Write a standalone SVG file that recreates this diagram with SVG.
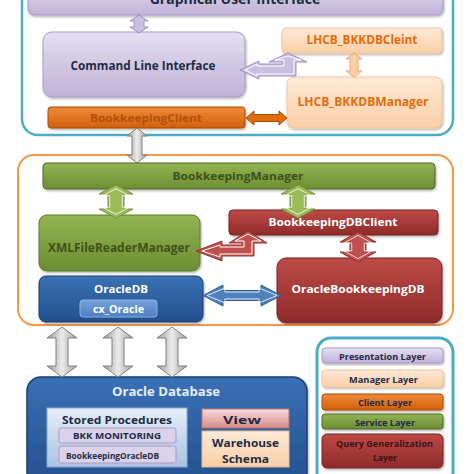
<svg xmlns="http://www.w3.org/2000/svg" width="474" height="474" viewBox="0 0 474 474">
<defs>
<linearGradient id="gLav" x1="0" y1="0" x2="0" y2="1"><stop offset="0" stop-color="#e4dff0"/><stop offset="1" stop-color="#bfb2d8"/></linearGradient>
<linearGradient id="gPeach" x1="0" y1="0" x2="0" y2="1"><stop offset="0" stop-color="#fee9d8"/><stop offset="1" stop-color="#fbcfa6"/></linearGradient>
<linearGradient id="gOrange" x1="0" y1="0" x2="0" y2="1"><stop offset="0" stop-color="#ee8a3a"/><stop offset="1" stop-color="#d2600c"/></linearGradient>
<linearGradient id="gGreen" x1="0" y1="0" x2="0" y2="1"><stop offset="0" stop-color="#93b452"/><stop offset="1" stop-color="#6d8d33"/></linearGradient>
<linearGradient id="gRed" x1="0" y1="0" x2="0" y2="1"><stop offset="0" stop-color="#bd4a47"/><stop offset="1" stop-color="#8f2b2a"/></linearGradient>
<linearGradient id="gBlue" x1="0" y1="0" x2="0" y2="1"><stop offset="0" stop-color="#3a70b5"/><stop offset="1" stop-color="#23508c"/></linearGradient>
<linearGradient id="gBlueL" x1="0" y1="0" x2="0" y2="1"><stop offset="0" stop-color="#77a3da"/><stop offset="1" stop-color="#4a7ec4"/></linearGradient>
<linearGradient id="gSP" x1="0" y1="0" x2="0" y2="1"><stop offset="0" stop-color="#e6eef8"/><stop offset="1" stop-color="#a9c2e2"/></linearGradient>
<linearGradient id="gPink" x1="0" y1="0" x2="0" y2="1"><stop offset="0" stop-color="#f8dada"/><stop offset="1" stop-color="#d98a8a"/></linearGradient>
<linearGradient id="gGray" x1="0" y1="0" x2="1" y2="0"><stop offset="0" stop-color="#9a9a9a"/><stop offset="0.5" stop-color="#ececec"/><stop offset="1" stop-color="#9a9a9a"/></linearGradient>
<filter id="sh" x="-10%" y="-10%" width="120%" height="130%"><feDropShadow dx="1" dy="1.5" stdDeviation="1.2" flood-color="#000" flood-opacity="0.3"/></filter>
</defs>
<style>
text{font-family:"Open Sans","Liberation Sans",sans-serif;font-weight:700;text-anchor:middle;dominant-baseline:central}
.dk{fill:#1f2a44}
.wt{fill:#ffffff}
.box{filter:url(#sh)}
.inner{fill:none;stroke:#ffffff;stroke-width:1}
</style>

<rect x="22" y="-30" width="431" height="165" rx="16" fill="#ffffff" stroke="#4bacc6" stroke-width="2.5"/>
<rect x="18" y="155" width="435" height="170" rx="16" fill="#ffffff" stroke="#f79646" stroke-width="2"/>
<rect x="317" y="338" width="136" height="150" rx="14" fill="#ffffff" stroke="#4bacc6" stroke-width="3"/>

<g id="gui"><rect class="box" x="28" y="-20" width="415" height="35" rx="6" fill="url(#gLav)" stroke="#a898c8"/><text class="dk" x="235" y="-2" font-size="14">Graphical User Interface</text></g>
<g id="cli"><rect class="box" x="43" y="32" width="202" height="65" rx="9" fill="url(#gLav)" stroke="#a898c8"/><text class="dk" x="143" y="65" font-size="12" textLength="145" lengthAdjust="spacingAndGlyphs">Command Line Interface</text></g>
<g id="lhcbClient"><rect class="box" x="282" y="28" width="160" height="25" rx="4" fill="url(#gPeach)" stroke="#f5c29a"/><text x="362" y="39.5" font-size="11.5" fill="#e46c0a" textLength="111" lengthAdjust="spacingAndGlyphs">LHCB_BKKDBCleint</text></g>
<g id="lhcbManager"><rect class="box" x="287" y="77" width="155" height="51" rx="7" fill="url(#gPeach)" stroke="#f5c29a"/><text x="363" y="101" font-size="11.5" fill="#e46c0a" textLength="131" lengthAdjust="spacingAndGlyphs">LHCB_BKKDBManager</text></g>
<g id="bkClient"><rect class="box" x="48" y="107" width="197" height="21" rx="3" fill="url(#gOrange)" stroke="#a84b08"/><text x="146" y="117.5" font-size="11" fill="#b24f0e" textLength="112" lengthAdjust="spacingAndGlyphs">BookkeepingClient</text></g>

<g id="bkManager"><rect class="box" x="43" y="163" width="392" height="26" rx="4" fill="url(#gGreen)" stroke="#4f6a22"/><text x="238" y="175" font-size="11" fill="#3d4f1a" textLength="131" lengthAdjust="spacingAndGlyphs">BookkeepingManager</text></g>
<g id="xmlReader"><rect class="box" x="39" y="215" width="161" height="56" rx="8" fill="url(#gGreen)" stroke="#5f7d2a"/><text x="119" y="247" font-size="11.5" fill="#3e5218" textLength="142" lengthAdjust="spacingAndGlyphs">XMLFileReaderManager</text></g>
<g id="bkDBClient"><rect class="box" x="229" y="210" width="209" height="25" rx="4" fill="url(#gRed)" stroke="#7a2020"/><text class="wt" x="333" y="221.5" font-size="11" textLength="129" lengthAdjust="spacingAndGlyphs">BookkeepingDBClient</text></g>
<g id="oracleBkDB"><rect class="box" x="277" y="258" width="165" height="65" rx="9" fill="url(#gRed)" stroke="#7a2020"/><text class="wt" x="358" y="288" font-size="11" textLength="133" lengthAdjust="spacingAndGlyphs">OracleBookkeepingDB</text></g>
<g id="oracleDB"><rect class="box" x="39" y="276" width="164" height="46" rx="7" fill="url(#gBlue)" stroke="#1a3f70"/><text class="wt" x="121" y="288" font-size="11" textLength="54" lengthAdjust="spacingAndGlyphs">OracleDB</text>
<rect x="80" y="300" width="77" height="17" rx="3" fill="url(#gBlueL)" stroke="#8fb2e0"/><text class="wt" x="118.5" y="309" font-size="10" textLength="51" lengthAdjust="spacingAndGlyphs">cx_Oracle</text></g>

<g id="oracleDatabase"><rect class="box" x="27" y="377" width="280" height="110" rx="14" fill="url(#gBlue)" stroke="#1a3f70" stroke-width="1.5"/><text x="166" y="391" font-size="12" fill="#e8eef8" textLength="108" lengthAdjust="spacingAndGlyphs">Oracle Database</text></g>
<g id="storedProcedures"><rect x="47" y="408" width="140" height="59" fill="url(#gSP)" stroke="#8aa8d2"/><text class="dk" x="117" y="419" font-size="11" textLength="110" lengthAdjust="spacingAndGlyphs">Stored Procedures</text>
<rect x="59" y="428" width="117" height="15" rx="2" fill="#d9d2e9" stroke="#a99bc8"/><text class="dk" x="117" y="435.5" font-size="8.5" textLength="88" lengthAdjust="spacingAndGlyphs">BKK  MONITORING</text>
<rect x="59" y="446" width="117" height="17" rx="2" fill="#d9d2e9" stroke="#a99bc8"/><text class="dk" x="112.5" y="455" font-size="8" textLength="93" lengthAdjust="spacingAndGlyphs">BookkeepingOracleDB</text></g>
<g id="view"><rect x="202" y="409" width="87" height="19" fill="url(#gPink)" stroke="#c07070"/><text class="dk" x="242" y="419.5" font-size="11" textLength="38" lengthAdjust="spacingAndGlyphs">View</text></g>
<g id="warehouse"><rect x="202" y="431" width="87" height="36" fill="url(#gPeach)" stroke="#e8b894"/><text class="dk" x="245.5" y="442" font-size="11" textLength="67" lengthAdjust="spacingAndGlyphs">Warehouse</text><text class="dk" x="245.5" y="458" font-size="11" textLength="47" lengthAdjust="spacingAndGlyphs">Schema</text></g>

<g id="legend">
<rect class="box" x="322" y="348" width="121" height="15" rx="3" fill="url(#gLav)" stroke="#a898c8"/><text class="dk" x="382.5" y="356" font-size="8.5" textLength="87" lengthAdjust="spacingAndGlyphs">Presentation Layer</text>
<rect class="box" x="322" y="370" width="121" height="17" rx="3" fill="url(#gPeach)" stroke="#f5c29a"/><text class="dk" x="383.5" y="379" font-size="8.5" textLength="69" lengthAdjust="spacingAndGlyphs">Manager Layer</text>
<rect class="box" x="322" y="394" width="121" height="16" rx="3" fill="url(#gOrange)" stroke="#a84b08"/><text class="dk" x="385" y="402.5" font-size="8.5" textLength="54" lengthAdjust="spacingAndGlyphs">Client Layer</text>
<rect class="box" x="322" y="414" width="121" height="15" rx="3" fill="url(#gGreen)" stroke="#4f6a22"/><text class="dk" x="385" y="422" font-size="8.5" textLength="60" lengthAdjust="spacingAndGlyphs">Service Layer</text>
<rect class="box" x="322" y="434" width="121" height="34" rx="5" fill="url(#gRed)" stroke="#7a2020"/><text x="384.5" y="443.5" font-size="8.5" fill="#3a1414" textLength="97" lengthAdjust="spacingAndGlyphs">Query Generalization</text><text x="385" y="457" font-size="8.5" fill="#3a1414" textLength="24" lengthAdjust="spacingAndGlyphs">Layer</text>
</g>

<g id="connectors">
<polygon points="139,15 148,21 144,21 144,27 148,27 139,33 130,27 134,27 134,21 130,21" fill="#c9bfe0" stroke="#9e90c2"/>
<polygon points="288,53 307,62 296,62 296,76 259,76 259,79 240,70 259,61 259,64 282,64 282,62 269,62" fill="#c9bfe0" stroke="#9e90c2"/>
<polygon class="inner" points="288,56 301,60 294,60 294,74 257,74 257,76 245,70 257,64 257,66 284,66 284,60 275,60"/>
<polygon points="354,53 362,59 358,59 358,71 362,71 354,77 346,71 350,71 350,59 346,59" fill="#fbcfa6" stroke="#f0a870"/>
<polygon points="246,118 254,111 254,114.5 279,114.5 279,111 287,118 279,125 279,121.5 254,121.5 254,125" fill="#e36c0a" stroke="#a84b08"/>
<polygon points="137,128 147,136 142,136 142,155 147,155 137,163 127,155 132,155 132,136 127,136" fill="url(#gGray)" stroke="#7f7f7f"/>
<polygon points="116,185 133,194 124,194 124,209 133,209 116,218 99,209 108,209 108,194 99,194" fill="#9bbb59" stroke="#77933c"/>
<polygon class="inner" points="116,185 133,194 124,194 124,209 133,209 116,218 99,209 108,209 108,194 99,194" transform="translate(116,201.5) scale(0.78) translate(-116,-201.5)"/>
<polygon points="298,185 315,194 306,194 306,209 315,209 298,218 281,209 290,209 290,194 281,194" fill="#9bbb59" stroke="#77933c"/>
<polygon class="inner" points="298,185 315,194 306,194 306,209 315,209 298,218 281,209 290,209 290,194 281,194" transform="translate(298,201.5) scale(0.78) translate(-298,-201.5)"/>
<polygon points="358,232 376,242 366,242 366,252 376,252 358,262 340,252 350,252 350,242 340,242" fill="#c0504d" stroke="#943634"/>
<polygon class="inner" points="358,232 376,242 366,242 366,252 376,252 358,262 340,252 350,252 350,242 340,242" transform="translate(358,247) scale(0.78) translate(-358,-247)"/>
<polygon points="248,231 267,243 254,243 254,256 222,256 222,261 196,251 222,241 222,245 242,245 242,243 229,243" fill="#c0504d" stroke="#943634"/>
<polygon class="inner" points="248,234 261,241 252,241 252,254 220,254 220,257 202,251 220,245 220,247 244,247 244,241 235,241"/>
<polygon points="203,295.5 223,285 223,290.5 261,290.5 261,285 281,295.5 261,306 261,300.5 223,300.5 223,306" fill="#4f81bd" stroke="#2c5d96"/>
<polygon class="inner" points="203,295.5 223,285 223,290.5 261,290.5 261,285 281,295.5 261,306 261,300.5 223,300.5 223,306" transform="translate(242,295.5) scale(0.9 0.7) translate(-242,-295.5)"/>
<polygon points="62,327 77,338 68,338 68,366 77,366 62,377 47,366 56,366 56,338 47,338" fill="url(#gGray)" stroke="#7f7f7f"/>
<polygon points="118,327 133,338 124,338 124,366 133,366 118,377 103,366 112,366 112,338 103,338" fill="url(#gGray)" stroke="#7f7f7f"/>
<polygon points="172,327 187,338 178,338 178,366 187,366 172,377 157,366 166,366 166,338 157,338" fill="url(#gGray)" stroke="#7f7f7f"/>
</g>
</svg>
